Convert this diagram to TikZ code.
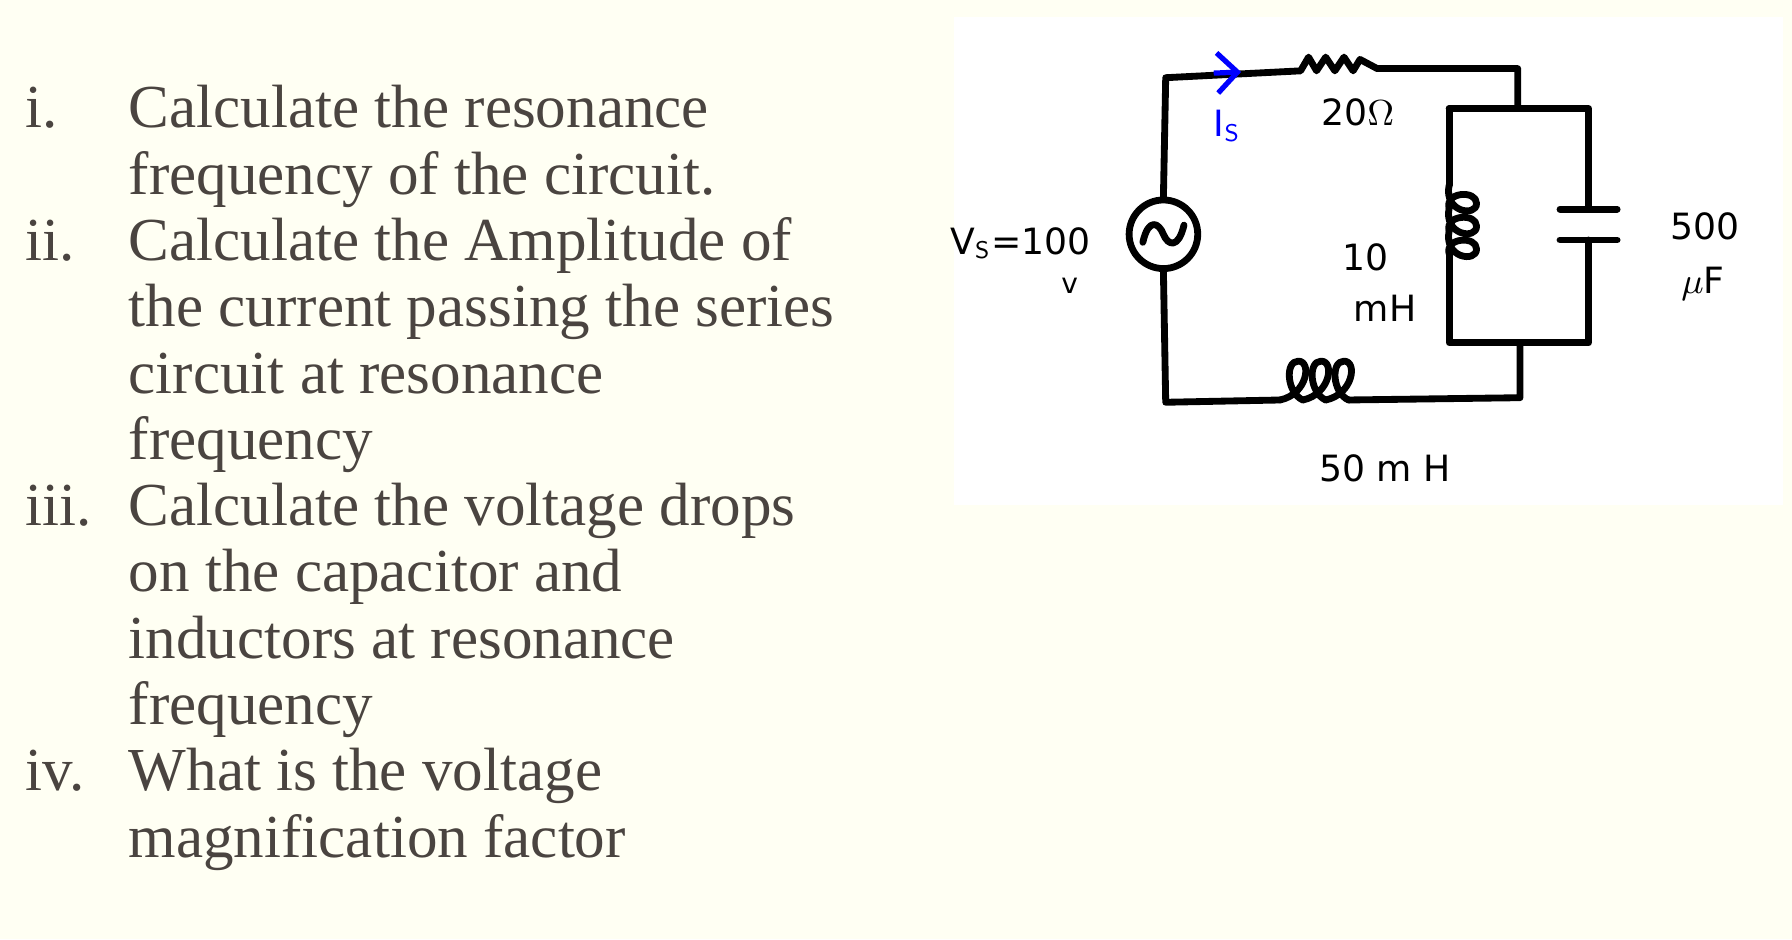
\documentclass[tikz,border=0pt]{standalone}
\usepackage{fontspec}
\usetikzlibrary{arrows.meta}
\setmainfont{Liberation Serif}
\newfontfamily\hand{DejaVu Sans}
\definecolor{bg}{HTML}{FFFFF3}
\definecolor{txt}{HTML}{4A4440}
\begin{document}
\begin{tikzpicture}[x=0.01cm,y=-0.01cm,
  wire/.style={line width=1.7pt,line join=round,line cap=round},
  q/.style={anchor=base west,font=\fontsize{15.2}{18}\selectfont,text=txt,inner sep=0},
  lab/.style={font=\hand\fontsize{9}{10}\selectfont,inner sep=0}]
\useasboundingbox (0,0) rectangle (1568,822);
\fill[bg] (0,0) rectangle (1568,822);
\fill[white] (835,15) rectangle (1560,442);
% questions
\foreach \y/\n/\t in {112/i./Calculate the resonance,
  170//frequency of the circuit.,
  228/ii./Calculate the Amplitude of,
  286//the current passing the series,
  344//circuit at resonance,
  402//frequency,
  460/iii./Calculate the voltage drops,
  518//on the capacitor and,
  576//inductors at resonance,
  634//frequency,
  692/iv./What is the voltage,
  750//magnification factor}{
  \node[q] (n\y) at (22,\y) {\n};
  \node[q] (t\y) at (112,\y) {\t};
}
% circuit coordinates
\coordinate (tl) at (1020,68);
\coordinate (tr) at (1328,60);
\coordinate (bl) at (1020,352);
\coordinate (br) at (1330,348);
\node[draw,circle,line width=1.7pt,minimum size=0.6cm,inner sep=0] (src) at (1018,205) {};
\draw[wire] (src.north) -- (tl) -- (1138,62)
  -- (1145,50) -- (1152,62) -- (1160,50) -- (1168,62) -- (1176,50) -- (1184,62) -- (1190,52) -- (1205,60) -- (tr) -- (1328,95);
\draw[wire] (1000,212) .. controls (1005,190) and (1014,195) .. (1018,205) .. controls (1022,215) and (1031,218) .. (1036,197);
\draw[wire] (src.south) -- (bl) -- (1120,350);
\foreach \x in {1120,1140,1160}{
  \draw[wire] (\x,350) .. controls ({\x+24},345) and ({\x+28},316) .. ({\x+16},316) .. controls ({\x+4},316) and ({\x+6},344) .. ({\x+20},350);
}
\draw[wire] (1180,350) -- (br) -- (1330,300);
% parallel box
\draw[wire] (1268,95) -- (1390,95) -- (1390,183);
\draw[wire] (1390,210) -- (1390,300) -- (1268,300) -- (1268,222);
\draw[wire] (1268,95) -- (1268,162);
\foreach \y in {162,182,202}{
  \draw[wire] (1268,\y) .. controls (1263,{\y+24}) and (1292,{\y+28}) .. (1292,{\y+16}) .. controls (1292,{\y+4}) and (1264,{\y+6}) .. (1268,{\y+20});
}
\draw[wire] (1365,183) -- (1415,183);
\draw[wire] (1365,210) -- (1415,210);
% arrow
\draw[blue,line width=1.3pt,-{Straight Barb[length=5pt]}] (1062,64) -- (1086,63);
% labels
\node[lab,text=blue] (is) at (1074,110) {I$_\mathsf{S}$};
\node[lab] (r) at (1188,98) {20$\Omega$};
\node[lab] (vs) at (893,213) {V$_\mathsf{S}$=100};
\node[lab] (vv) at (936,250) {\fontsize{7}{8}\selectfont v};
\node[lab] (l1) at (1195,225) {10};
\node[lab] (l1b) at (1212,270) {mH};
\node[lab] (c1) at (1492,198) {500};
\node[lab] (c1b) at (1490,248) {$\mu$F};
\node[lab] (l2) at (1212,410) {50 m H};
\end{tikzpicture}
\end{document}
